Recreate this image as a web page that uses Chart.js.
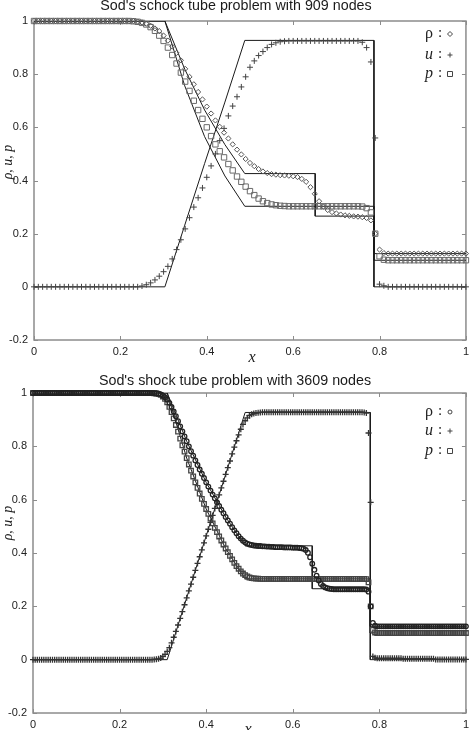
<!DOCTYPE html>
<html>
<head>
<meta charset="utf-8">
<script src="https://cdn.jsdelivr.net/npm/chart.js"></script>
<style>
  body { margin: 0; background: #fff; }
  canvas { display: block; }
</style>
</head>
<body>
<canvas id="chart909" width="474" height="365"></canvas>
<canvas id="chart3609" width="474" height="365"></canvas>
<script>
// ---- 909 nodes: numerical solution, every 10th node ----
var xs1 = [0,0.01,0.02,0.03,0.04,0.05,0.06,0.07,0.08,0.09,
  0.1,0.11,0.12,0.13,0.14,0.15,0.16,0.17,0.18,0.19,
  0.2,0.21,0.22,0.23,0.24,0.25,0.26,0.27,0.28,0.29,
  0.3,0.31,0.32,0.33,0.34,0.35,0.36,0.37,0.38,0.39,
  0.4,0.41,0.42,0.43,0.44,0.45,0.46,0.47,0.48,0.49,
  0.5,0.51,0.52,0.53,0.54,0.55,0.56,0.57,0.58,0.59,
  0.6,0.61,0.62,0.63,0.64,0.65,0.66,0.67,0.68,0.69,
  0.7,0.71,0.72,0.73,0.74,0.75,0.76,0.77,0.78,0.79,
  0.8,0.81,0.82,0.83,0.84,0.85,0.86,0.87,0.88,0.89,
  0.9,0.91,0.92,0.93,0.94,0.95,0.96,0.97,0.98,0.99,1];
var rho1 = [1,1,1,1,1,1,1,1,1,1,
  1,1,1,1,1,1,1,1,1,1,
  1,1,1,1,0.998,0.995,0.99,0.982,0.972,0.962,
  0.945,0.926,0.904,0.88,0.852,0.82,0.79,0.762,0.733,0.705,
  0.678,0.652,0.626,0.602,0.58,0.558,0.536,0.516,0.498,0.481,
  0.466,0.454,0.443,0.434,0.428,0.424,0.422,0.42,0.419,0.418,
  0.416,0.413,0.406,0.395,0.375,0.35,0.322,0.302,0.289,0.281,
  0.276,0.272,0.269,0.267,0.265,0.264,0.262,0.259,0.25,0.2,
  0.14,0.127,0.125,0.125,0.125,0.125,0.125,0.125,0.125,0.125,
  0.125,0.125,0.125,0.125,0.125,0.125,0.125,0.125,0.125,0.125,0.125];
var u1 = [0,0,0,0,0,0,0,0,0,0,
  0,0,0,0,0,0,0,0,0,0,
  0,0,0,0,0,0.003,0.008,0.015,0.026,0.04,
  0.057,0.077,0.105,0.14,0.177,0.218,0.26,0.3,0.335,0.372,
  0.412,0.455,0.5,0.55,0.596,0.643,0.68,0.715,0.752,0.79,
  0.826,0.85,0.87,0.885,0.9,0.912,0.918,0.922,0.924,0.925,
  0.925,0.925,0.925,0.925,0.925,0.925,0.925,0.925,0.925,0.925,
  0.925,0.925,0.925,0.925,0.925,0.925,0.92,0.9,0.846,0.56,
  0.01,0.004,0,0,0,0,0,0,0,0,
  0,0,0,0,0,0,0,0,0,0,0];
var p1 = [1,1,1,1,1,1,1,1,1,1,
  1,1,1,1,1,1,1,1,1,1,
  1,1,1,0.999,0.997,0.993,0.987,0.977,0.963,0.945,
  0.925,0.9,0.872,0.84,0.806,0.772,0.737,0.7,0.665,0.632,
  0.6,0.567,0.536,0.51,0.487,0.462,0.438,0.415,0.395,0.377,
  0.36,0.345,0.332,0.322,0.315,0.31,0.307,0.305,0.304,0.303,
  0.303,0.303,0.303,0.303,0.303,0.303,0.303,0.303,0.303,0.303,
  0.303,0.303,0.303,0.303,0.303,0.303,0.302,0.296,0.28,0.2,
  0.115,0.102,0.1,0.1,0.1,0.1,0.1,0.1,0.1,0.1,
  0.1,0.1,0.1,0.1,0.1,0.1,0.1,0.1,0.1,0.1,0.1];

// exact solution (solid line), chart 1
var exactX1 = [0, 0.303, 0.349, 0.395, 0.442, 0.488, 0.651, 0.651, 0.787, 0.787, 1];
var exactRho1 = [1, 1, 0.819, 0.665, 0.535, 0.426, 0.426, 0.266, 0.266, 0.125, 0.125];
var exactU1 = [0, 0, 0.232, 0.464, 0.695, 0.927, 0.927, 0.927, 0.927, 0, 0];
var exactP1 = [1, 1, 0.756, 0.565, 0.417, 0.303, 0.303, 0.303, 0.303, 0.1, 0.1];

// ---- 3609 nodes ----
var xs2 = [0,0.005,0.01,0.015,0.02,0.025,0.03,0.035,0.04,0.045,0.05,0.055,0.06,0.065,0.07,0.075,0.08,0.085,0.09,0.095,
  0.1,0.105,0.11,0.115,0.12,0.125,0.13,0.135,0.14,0.145,0.15,0.155,0.16,0.165,0.17,0.175,0.18,0.185,0.19,0.195,
  0.2,0.205,0.21,0.215,0.22,0.225,0.23,0.235,0.24,0.245,0.25,0.255,0.26,0.265,0.27,0.275,0.28,0.285,0.29,0.295,
  0.3,0.305,0.31,0.315,0.32,0.325,0.33,0.335,0.34,0.345,0.35,0.355,0.36,0.365,0.37,0.375,0.38,0.385,0.39,0.395,
  0.4,0.405,0.41,0.415,0.42,0.425,0.43,0.435,0.44,0.445,0.45,0.455,0.46,0.465,0.47,0.475,0.48,0.485,0.49,0.495,
  0.5,0.505,0.51,0.515,0.52,0.525,0.53,0.535,0.54,0.545,0.55,0.555,0.56,0.565,0.57,0.575,0.58,0.585,0.59,0.595,
  0.6,0.605,0.61,0.615,0.62,0.625,0.63,0.635,0.64,0.645,0.65,0.655,0.66,0.665,0.67,0.675,0.68,0.685,0.69,0.695,
  0.7,0.705,0.71,0.715,0.72,0.725,0.73,0.735,0.74,0.745,0.75,0.755,0.76,0.765,0.77,0.775,0.78,0.785,0.79,0.795,
  0.8,0.805,0.81,0.815,0.82,0.825,0.83,0.835,0.84,0.845,0.85,0.855,0.86,0.865,0.87,0.875,0.88,0.885,0.89,0.895,
  0.9,0.905,0.91,0.915,0.92,0.925,0.93,0.935,0.94,0.945,0.95,0.955,0.96,0.965,0.97,0.975,0.98,0.985,0.99,0.995,1];
var rho2 = [1,1,1,1,1,1,1,1,1,1,1,1,1,1,1,1,1,1,1,1,
  1,1,1,1,1,1,1,1,1,1,1,1,1,1,1,1,1,1,1,1,
  1,1,1,1,1,1,1,1,1,1,1,1,1,1,1,1,0.999,0.999,0.997,0.995,
  0.99,0.984,0.975,0.963,0.948,0.931,0.913,0.894,0.875,0.856,0.837,0.819,0.8,0.782,0.765,0.747,0.73,0.713,0.697,0.681,
  0.665,0.649,0.634,0.619,0.605,0.59,0.576,0.562,0.549,0.535,0.522,0.51,0.497,0.485,0.474,0.463,0.454,0.446,0.44,0.435,
  0.432,0.43,0.428,0.427,0.426,0.426,0.425,0.425,0.424,0.424,0.423,0.423,0.422,0.422,0.422,0.422,0.421,0.421,0.421,0.421,
  0.42,0.42,0.42,0.419,0.418,0.416,0.411,0.401,0.384,0.36,0.337,0.315,0.297,0.284,0.276,0.271,0.268,0.266,0.265,0.264,
  0.264,0.264,0.264,0.264,0.264,0.264,0.264,0.264,0.264,0.264,0.264,0.264,0.264,0.264,0.263,0.255,0.2,0.138,0.127,0.125,
  0.125,0.125,0.125,0.125,0.125,0.125,0.125,0.125,0.125,0.125,0.125,0.125,0.125,0.125,0.125,0.125,0.125,0.125,0.125,0.125,
  0.125,0.125,0.125,0.125,0.125,0.125,0.125,0.125,0.125,0.125,0.125,0.125,0.125,0.125,0.125,0.125,0.125,0.125,0.125,0.125,0.125];
var u2 = [0,0,0,0,0,0,0,0,0,0,0,0,0,0,0,0,0,0,0,0,
  0,0,0,0,0,0,0,0,0,0,0,0,0,0,0,0,0,0,0,0,
  0,0,0,0,0,0,0,0,0,0,0,0,0,0,0,0,0.001,0.002,0.003,0.006,
  0.012,0.02,0.031,0.045,0.063,0.084,0.106,0.13,0.155,0.18,0.206,0.232,0.258,0.283,0.309,0.335,0.361,0.386,0.412,0.438,
  0.464,0.489,0.515,0.541,0.567,0.592,0.618,0.644,0.669,0.695,0.72,0.745,0.772,0.797,0.821,0.843,0.864,0.882,0.896,0.907,
  0.915,0.92,0.923,0.925,0.926,0.927,0.928,0.928,0.928,0.928,0.928,0.928,0.928,0.928,0.928,0.928,0.928,0.928,0.928,0.928,
  0.928,0.928,0.928,0.928,0.928,0.928,0.928,0.928,0.928,0.928,0.928,0.928,0.928,0.928,0.928,0.928,0.928,0.928,0.928,0.928,
  0.928,0.928,0.928,0.928,0.928,0.928,0.928,0.928,0.928,0.928,0.928,0.928,0.928,0.927,0.925,0.85,0.59,0.012,0.007,0.005,
  0.005,0.005,0.005,0.005,0.005,0.005,0.005,0.005,0.005,0.005,0.005,0.003,0.003,0.003,0.003,0.003,0.003,0.003,0.003,0.003,
  0.003,0.003,0.003,0.003,0.003,0.003,0.001,0.001,0.001,0.001,0.001,0.001,0.001,0.001,0.001,0.001,0.001,0.001,0.001,0.001,0.001];
var p2 = [1,1,1,1,1,1,1,1,1,1,1,1,1,1,1,1,1,1,1,1,
  1,1,1,1,1,1,1,1,1,1,1,1,1,1,1,1,1,1,1,1,
  1,1,1,1,1,1,1,1,1,1,1,1,1,1,1,1,0.999,0.998,0.996,0.993,
  0.987,0.978,0.965,0.948,0.928,0.905,0.88,0.855,0.829,0.804,0.78,0.756,0.732,0.709,0.687,0.665,0.644,0.623,0.603,0.584,
  0.565,0.547,0.529,0.511,0.494,0.478,0.462,0.447,0.432,0.417,0.403,0.389,0.376,0.363,0.351,0.341,0.331,0.323,0.317,0.312,
  0.308,0.306,0.305,0.304,0.304,0.303,0.303,0.303,0.303,0.303,0.303,0.303,0.303,0.303,0.303,0.303,0.303,0.303,0.303,0.303,
  0.303,0.303,0.303,0.303,0.303,0.303,0.303,0.303,0.303,0.303,0.303,0.303,0.303,0.303,0.303,0.303,0.303,0.303,0.303,0.303,
  0.303,0.303,0.303,0.303,0.303,0.303,0.303,0.303,0.303,0.303,0.303,0.303,0.303,0.303,0.302,0.29,0.2,0.112,0.102,0.1,
  0.1,0.1,0.1,0.1,0.1,0.1,0.1,0.1,0.1,0.1,0.1,0.1,0.1,0.1,0.1,0.1,0.1,0.1,0.1,0.1,
  0.1,0.1,0.1,0.1,0.1,0.1,0.1,0.1,0.1,0.1,0.1,0.1,0.1,0.1,0.1,0.1,0.1,0.1,0.1,0.1,0.1];

var exactX2 = [0, 0.31, 0.355, 0.4, 0.445, 0.49, 0.645, 0.645, 0.779, 0.779, 1];
var exactRho2 = [1, 1, 0.819, 0.665, 0.535, 0.427, 0.427, 0.266, 0.266, 0.125, 0.125];
var exactU2 = [0, 0, 0.232, 0.464, 0.695, 0.927, 0.927, 0.927, 0.927, 0, 0];
var exactP2 = [1, 1, 0.756, 0.565, 0.417, 0.303, 0.303, 0.303, 0.303, 0.1, 0.1];

var xTicks = ['0', '0.2', '0.4', '0.6', '0.8', '1'];
var yTicks = ['-0.2', '0', '0.2', '0.4', '0.6', '0.8', '1'];

function pts(xs, ys) {
  return xs.map(function (x, i) { return { x: x, y: ys[i] }; });
}

// box around the plot with small inward ticks on all four sides
var framePlugin = {
  id: 'frame',
  beforeDatasetsDraw: function (chart) {
    var ctx = chart.ctx, a = chart.chartArea, sx = chart.scales.x, sy = chart.scales.y;
    ctx.save();
    ctx.strokeStyle = '#8c8c8c';
    ctx.lineWidth = 1.5;
    ctx.strokeRect(a.left, a.top, a.right - a.left, a.bottom - a.top);
    ctx.lineWidth = 1;
    ctx.beginPath();
    sx.ticks.forEach(function (t) {
      var px = Math.round(sx.getPixelForValue(t.value)) + 0.5;
      ctx.moveTo(px, a.top); ctx.lineTo(px, a.top + 4);
      ctx.moveTo(px, a.bottom); ctx.lineTo(px, a.bottom - 4);
    });
    sy.ticks.forEach(function (t) {
      var py = Math.round(sy.getPixelForValue(t.value)) + 0.5;
      ctx.moveTo(a.left, py); ctx.lineTo(a.left + 4, py);
      ctx.moveTo(a.right, py); ctx.lineTo(a.right - 4, py);
    });
    ctx.stroke();
    ctx.restore();
  }
};

function drawMarker(ctx, style, x, y, r) {
  ctx.beginPath();
  if (style === 'rectRot') {
    ctx.moveTo(x, y - r); ctx.lineTo(x + r, y); ctx.lineTo(x, y + r); ctx.lineTo(x - r, y); ctx.closePath();
  } else if (style === 'circle') {
    ctx.arc(x, y, r, 0, Math.PI * 2);
  } else if (style === 'cross') {
    ctx.moveTo(x - r, y); ctx.lineTo(x + r, y); ctx.moveTo(x, y - r); ctx.lineTo(x, y + r);
  } else {
    ctx.rect(x - r, y - r, 2 * r, 2 * r);
  }
  ctx.stroke();
}

// "ρ : ◇" style key and the axis titles
var keyPlugin = {
  id: 'symbolKey',
  afterDraw: function (chart, args, o) {
    var ctx = chart.ctx;
    ctx.save();
    ctx.fillStyle = '#222';
    ctx.strokeStyle = '#444';
    ctx.lineWidth = 1;
    ctx.textBaseline = 'alphabetic';
    ctx.textAlign = 'center';
    o.rows.forEach(function (row, i) {
      var y = o.baselines[i];
      ctx.font = (row.italic ? 'italic ' : '') + '16px "Liberation Serif"';
      ctx.fillText(row.label, o.x, y);
      ctx.font = '15px "Liberation Serif"';
      ctx.fillText(':', o.x + 11, y - 1);
      drawMarker(ctx, row.style, o.x + 21, y - 4, row.size);
    });
    // x axis title
    ctx.font = 'italic 16px "Liberation Serif"';
    ctx.fillText('x', o.xTitle[0], o.xTitle[1]);
    // y axis title
    ctx.translate(o.yTitle[0], o.yTitle[1]);
    ctx.rotate(-Math.PI / 2);
    ctx.textBaseline = 'middle';
    ctx.font = 'italic 14px "Liberation Serif"';
    ctx.fillText('\u03c1, u, p', 0, 0);
    ctx.restore();
  }
};

function makeChart(id, c) {
  var numeric = [
    { data: pts(c.xs, c.rho), pointStyle: c.rhoStyle, pointRadius: c.rhoRadius, borderColor: c.rhoColor },
    { data: pts(c.xs, c.u), pointStyle: 'cross', pointRadius: 3, borderColor: c.uColor },
    { data: pts(c.xs, c.p), pointStyle: 'rect', pointRadius: c.pRadius, borderColor: c.pColor }
  ].map(function (d) {
    d.backgroundColor = 'rgba(0,0,0,0)';
    d.pointBorderWidth = c.markerWidth;
    d.pointHoverRadius = 0;
    d.clip = false;
    return d;
  });
  var exact = [c.exRho, c.exU, c.exP].map(function (ys) {
    return {
      data: pts(c.exX, ys),
      showLine: true,
      borderColor: '#1a1a1a',
      borderWidth: 1,
      pointRadius: 0,
      tension: 0
    };
  });

  return new Chart(document.getElementById(id), {
    type: 'scatter',
    data: { datasets: numeric.concat(exact) },
    plugins: [framePlugin, keyPlugin],
    options: {
      responsive: false,
      animation: false,
      events: [],
      layout: { padding: { left: 0, right: c.padRight, top: 0, bottom: 0 } },
      plugins: {
        legend: { display: false },
        tooltip: { enabled: false },
        title: {
          display: true,
          text: c.title,
          color: '#1a1a1a',
          font: { family: '"Liberation Sans"', size: 14.3, weight: 'normal' },
          padding: c.titlePad
        },
        symbolKey: {
          x: 429,
          baselines: c.keyBaselines,
          rows: [
            { label: '\u03c1', italic: false, style: c.rhoStyle, size: c.rhoStyle === 'circle' ? 2 : 2.5 },
            { label: 'u', italic: true, style: 'cross', size: 2.5 },
            { label: 'p', italic: true, style: 'rect', size: 2.5 }
          ],
          xTitle: c.xTitle,
          yTitle: c.yTitle
        }
      },
      scales: {
        x: {
          type: 'linear',
          min: 0,
          max: 1,
          grid: { display: false, drawTicks: false },
          border: { display: false },
          ticks: {
            stepSize: 0.2, padding: 5, color: '#222', font: { family: '"Liberation Sans"', size: 11 },
            callback: function (v, i) { return xTicks[i]; }
          },
          afterFit: function (s) { s.height = c.xHeight; }
        },
        y: {
          min: -0.2,
          max: 1,
          grid: { display: false, drawTicks: false },
          border: { display: false },
          ticks: {
            stepSize: 0.2, padding: 6, color: '#222', font: { family: '"Liberation Sans"', size: 11 },
            callback: function (v, i) { return yTicks[i]; }
          },
          afterFit: function (s) { s.width = c.yWidth; }
        }
      }
    }
  });
}

makeChart('chart909', {
  title: "Sod's schock tube problem with 909 nodes",
  titlePad: { top: -2.6, bottom: 6.44 },
  xs: xs1, rho: rho1, u: u1, p: p1,
  exX: exactX1, exRho: exactRho1, exU: exactU1, exP: exactP1,
  rhoStyle: 'rectRot', rhoRadius: 2.6, rhoColor: '#555',
  uColor: '#444', pColor: '#6a6a6a', pRadius: 3.8, markerWidth: 1,
  padRight: 2, xHeight: 25, yWidth: 34,
  keyBaselines: [38, 59, 78],
  xTitle: [252, 362], yTitle: [8, 162]
});

makeChart('chart3609', {
  title: "Sod's shock tube problem with 3609 nodes",
  titlePad: { top: 7.1, bottom: 3.74 },
  xs: xs2, rho: rho2, u: u2, p: p2,
  exX: exactX2, exRho: exactRho2, exU: exactU2, exP: exactP2,
  rhoStyle: 'circle', rhoRadius: 2.3, rhoColor: '#222',
  uColor: '#333', pColor: '#444', pRadius: 3.2, markerWidth: 1.3,
  padRight: 4, xHeight: 17, yWidth: 33,
  keyBaselines: [51, 70, 90],
  xTitle: [248, 369], yTitle: [8, 158]
});
</script>
</body>
</html>
